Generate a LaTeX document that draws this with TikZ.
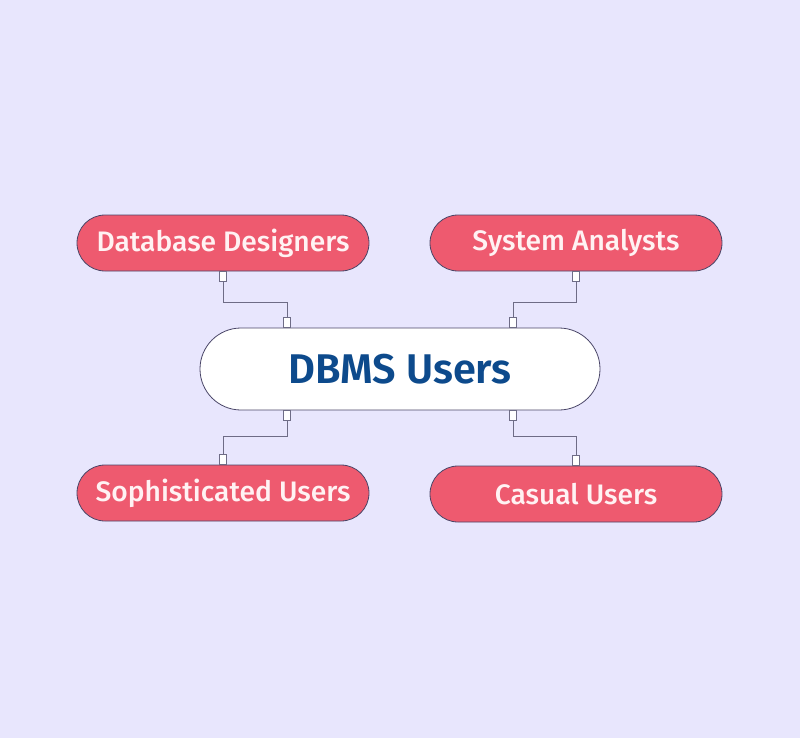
\documentclass[tikz,border=0pt]{standalone}
\usepackage{fontspec}
\setmainfont{Fira Sans}
\newfontfamily\rolefont{Fira Sans Medium}
\newfontfamily\hubfont{Fira Sans SemiBold}
\definecolor{bgcol}{HTML}{E8E6FD}
\definecolor{rolecol}{HTML}{EE5A6F}
\definecolor{edgecol}{HTML}{4A4668}
\definecolor{wirecol}{HTML}{6E6C86}
\definecolor{hubtext}{HTML}{0D4A8C}
\definecolor{roletext}{HTML}{FFF2F3}

\begin{document}
\begin{tikzpicture}[x=1pt,y=-1pt,
every node/.style={inner sep=0pt},
role/.style={draw=edgecol, line width=0.8pt, fill=rolecol, rounded corners=28pt,
    minimum width=292pt, minimum height=56pt, text=roletext,
    font=\rolefont\fontsize{28.2}{32}\selectfont},
hub/.style={draw=edgecol, line width=0.8pt, fill=white, rounded corners=41pt,
    minimum width=400pt, minimum height=82pt, text=hubtext,
    font=\hubfont\fontsize{41.5}{46}\selectfont},
port/.style={draw=wirecol, line width=0.8pt, fill=white, minimum width=7pt, minimum height=10pt},
wire/.style={draw=wirecol, line width=0.9pt}
]
% background
\fill[bgcol] (0,0) rectangle (800,738);
\useasboundingbox (0,0) rectangle (800,738);

% nodes
\node[hub] (db) at (400,369) {DBMS Users};
\node[role] (dd) at (223,243) {Database Designers};
\node[role] (sa) at (576,243) {System Analysts};
\node[role] (su) at (223,493) {Sophisticated Users};
\node[role] (cu) at (576,494) {Casual Users};

% ports
\node[port, anchor=north] (dd-p) at (dd.south) {};
\node[port, anchor=north] (sa-p) at (sa.south) {};
\node[port, anchor=south] (su-p) at (su.north) {};
\node[port, anchor=south] (cu-p) at (cu.north) {};
\node[port, anchor=south] (db-nw) at ([xshift=-113pt]db.north) {};
\node[port, anchor=south] (db-ne) at ([xshift=113pt]db.north) {};
\node[port, anchor=north] (db-sw) at ([xshift=-113pt]db.south) {};
\node[port, anchor=north] (db-se) at ([xshift=113pt]db.south) {};

% wires
\foreach \a/\b in {dd-p/db-nw, sa-p/db-ne}
    \draw[wire] (\a.south) -- ++(0,20) -| (\b.north);
\foreach \a/\b in {db-sw/su-p, db-se/cu-p}
    \draw[wire] (\a.south) -- ++(0,15) -| (\b.north);

\end{tikzpicture}
\end{document}
